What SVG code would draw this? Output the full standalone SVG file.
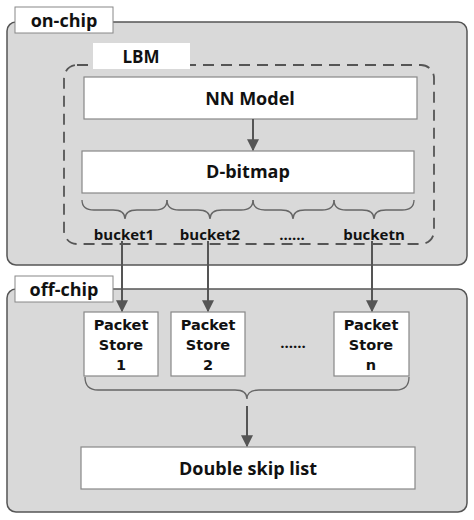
<svg xmlns="http://www.w3.org/2000/svg" width="474" height="520" viewBox="0 0 474 520">
<defs>
<style>
.zone{fill:#d9d9d9;stroke:#555;stroke-width:1.5}
.tag{fill:#fff;stroke:#888;stroke-width:1}
.box{fill:#fff;stroke:#888;stroke-width:1.2}
.t{font-family:"Open Sans","DejaVu Sans",sans-serif;font-weight:bold;fill:#111;text-anchor:middle}
.p{font-family:"DejaVu Sans","Open Sans",sans-serif;font-weight:bold;fill:#111;text-anchor:middle;font-size:14.5px}
.brace{fill:none;stroke:#666;stroke-width:1.3}
.conn{stroke:#555;stroke-width:2;fill:none}
</style>
<marker id="ah" viewBox="0 0 10 10" refX="9" refY="5" markerWidth="6" markerHeight="6" orient="auto" markerUnits="strokeWidth">
<path d="M0,0 L10,5 L0,10 z" fill="#555"/>
</marker>
</defs>
<g id="on-chip">
<rect class="zone" x="7" y="22" width="460" height="243" rx="9"/>
<rect class="tag" x="15" y="7" width="98" height="26"/>
<text class="t" x="64" y="27" font-size="18">on-chip</text>
</g>
<g id="lbm">
<rect x="64" y="65" width="370" height="179" rx="13" fill="none" stroke="#555" stroke-width="1.8" stroke-dasharray="11,7"/>
<rect x="93" y="43" width="97" height="26" fill="#fff"/>
<text class="t" x="141" y="63" font-size="17">LBM</text>
</g>
<g id="nn-model">
<rect class="box" x="84" y="77" width="333" height="42"/>
<text class="t" x="250" y="105" font-size="18">NN Model</text>
</g>
<g id="d-bitmap">
<rect class="box" x="82" y="151" width="332" height="42"/>
<text class="t" x="248" y="178" font-size="18">D-bitmap</text>
</g>
<g id="buckets">
<path class="brace" d="M82,200 Q82,210 94,210 L113,210 Q125,210 125,219 Q125,210 137,210 L155,210 Q167,210 167,200"/>
<path class="brace" d="M167,200 Q167,210 179,210 L198,210 Q210,210 210,219 Q210,210 222,210 L241,210 Q253,210 253,200"/>
<path class="brace" d="M253,200 Q253,210 265,210 L281,210 Q293,210 293,219 Q293,210 305,210 L322,210 Q334,210 334,200"/>
<path class="brace" d="M334,200 Q334,210 346,210 L362,210 Q374,210 374,219 Q374,210 386,210 L402,210 Q414,210 414,200"/>
<text class="t" x="124" y="240" font-size="15">bucket1</text>
<text class="t" x="210" y="240" font-size="15">bucket2</text>
<text class="t" x="292" y="240" font-size="15">......</text>
<text class="t" x="374" y="240" font-size="15">bucketn</text>
</g>
<g id="off-chip">
<rect class="zone" x="7" y="289" width="460" height="223" rx="9"/>
<rect class="tag" x="15" y="276" width="98" height="26"/>
<text class="t" x="64" y="296" font-size="18">off-chip</text>
</g>
<g id="packet-store-1">
<rect class="box" x="84" y="312" width="74" height="64"/>
<text class="p" x="121" y="330">Packet</text>
<text class="p" x="121" y="350">Store</text>
<text class="p" x="121" y="370">1</text>
</g>
<g id="packet-store-2">
<rect class="box" x="171" y="312" width="74" height="64"/>
<text class="p" x="208" y="330">Packet</text>
<text class="p" x="208" y="350">Store</text>
<text class="p" x="208" y="370">2</text>
</g>
<g id="packet-dots">
<text class="t" x="293" y="348" font-size="15">......</text>
</g>
<g id="packet-store-n">
<rect class="box" x="334" y="312" width="75" height="64"/>
<text class="p" x="371" y="330">Packet</text>
<text class="p" x="371" y="350">Store</text>
<text class="p" x="371" y="370">n</text>
</g>
<g id="store-brace">
<path class="brace" d="M85,377 Q85,390 98,390 L235,390 Q247,390 247,399 Q247,390 259,390 L396,390 Q409,390 409,377"/>
</g>
<g id="double-skip-list">
<rect class="box" x="81" y="447" width="334" height="42"/>
<text class="t" x="248" y="475" font-size="18">Double skip list</text>
</g>
<g id="connectors">
<line class="conn" x1="253" y1="119" x2="253" y2="150" marker-end="url(#ah)"/>
<line class="conn" x1="122" y1="241" x2="122" y2="311" marker-end="url(#ah)"/>
<line class="conn" x1="208" y1="241" x2="208" y2="311" marker-end="url(#ah)"/>
<line class="conn" x1="372" y1="241" x2="372" y2="311" marker-end="url(#ah)"/>
<line class="conn" x1="247" y1="406" x2="247" y2="446" marker-end="url(#ah)"/>
</g>
</svg>
